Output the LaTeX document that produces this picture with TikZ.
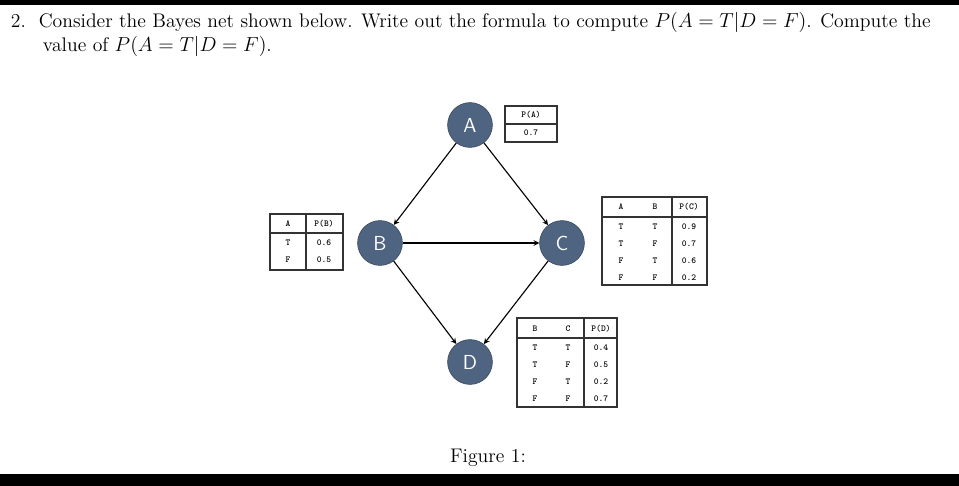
\documentclass[tikz,border=0pt]{standalone}
\usetikzlibrary{positioning}
\definecolor{slate}{HTML}{4F6480}
\tikzset{var node/.style={shape=circle, draw=slate!70!black, fill=slate,
    text=white, minimum size=1.12cm, inner sep=0pt, font=\sffamily\Large},
  cpt/.style={font=\ttfamily\bfseries\fontsize{6.5}{7}\selectfont, inner sep=0pt},
  box/.style={draw, thick, black!80}}
\usepackage{amsmath}

\begin{document}
\begin{tikzpicture}[x=0.025cm, y=-0.025cm, >=stealth]
    \useasboundingbox (0,0) rectangle (959,486);
    \fill[black] (0,0) rectangle (959,5);
    \fill[black] (0,474) rectangle (959,486);

    \node[anchor=west, font=\fontsize{14}{17}\selectfont] (q1) at (6,22)
      {2.\ \ Consider the Bayes net shown below. Write out the formula to compute $P(A=T|D=F)$. Compute the};
    \node[anchor=west, font=\fontsize{14}{17}\selectfont] (q2) at (38,46)
      {value of $P(A=T|D=F)$.};

    \node[var node] (A) at (470,125) {A};
    \node[var node] (B) at (380,243) {B};
    \node[var node] (C) at (562,243) {C};
    \node[var node] (D) at (470,362) {D};

    \path[draw,thick,->]
    (A) edge (B)
    (A) edge (C)
    (B) edge (C)
    (B) edge (D)
    (C) edge (D)
    ;

    % P(A)
    \draw[box] (505,106) rectangle (557,142) (505,124) -- (557,124);
    \node[cpt] (pa) at (531,115) {P(A)};
    \node[cpt] (pa1) at (531,133) {0.7};

    % P(B)
    \draw[box] (270,214) rectangle (343,270) (270,233) -- (343,233) (306,214) -- (306,270);
    \node[cpt] (bh1) at (288,224) {A};
    \node[cpt] (bh2) at (324,224) {P(B)};
    \foreach \a/\p [count=\i] in {T/0.6, F/0.5} {
      \node[cpt] (b\i a) at (288,226+17*\i) {\a};
      \node[cpt] (b\i p) at (324,226+17*\i) {\p};
    }

    % P(C)
    \draw[box] (602,197) rectangle (707,285) (602,217) -- (707,217) (672,197) -- (672,285);
    \node[cpt] (ch1) at (621,207) {A};
    \node[cpt] (ch2) at (655,207) {B};
    \node[cpt] (ch3) at (689,207) {P(C)};
    \foreach \a/\b/\p [count=\i] in {T/T/0.9, T/F/0.7, F/T/0.6, F/F/0.2} {
      \node[cpt] (c\i a) at (621,210+17*\i) {\a};
      \node[cpt] (c\i b) at (655,210+17*\i) {\b};
      \node[cpt] (c\i p) at (689,210+17*\i) {\p};
    }

    % P(D)
    \draw[box] (517,318) rectangle (617,407) (517,338) -- (617,338) (584,318) -- (584,407);
    \node[cpt] (dh1) at (535,329) {B};
    \node[cpt] (dh2) at (568,329) {C};
    \node[cpt] (dh3) at (601,329) {P(D)};
    \foreach \b/\c/\p [count=\i] in {T/T/0.4, T/F/0.5, F/T/0.2, F/F/0.7} {
      \node[cpt] (d\i b) at (535,331+17*\i) {\b};
      \node[cpt] (d\i c) at (568,331+17*\i) {\c};
      \node[cpt] (d\i p) at (601,331+17*\i) {\p};
    }

    \node[font=\fontsize{14}{17}\selectfont] (fig) at (488,458) {Figure 1:};
\end{tikzpicture}
\end{document}
